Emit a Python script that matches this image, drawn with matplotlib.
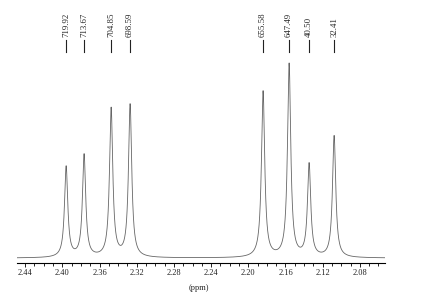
"""
1H NMR multiplet (2.05 - 2.45 ppm) with peak labels in Hz.
"""
import numpy as np
import matplotlib.pyplot as plt
from matplotlib.ticker import MultipleLocator, FormatStrFormatter

plt.rcParams['font.family'] = ['Liberation Serif', 'DejaVu Serif']

# Peak positions (ppm), relative heights and labels
peak_ppm = [2.3959, 2.3766, 2.3475, 2.3271, 2.1841, 2.1561, 2.1346, 2.1077]
peak_height = [47, 53, 77, 79, 86, 100, 48, 63]
peak_labels = ['719.92', '713.67', '704.85', '698.59', '655.58', '647.49', '40.50', '32.41']
peak_hwhm = 0.0021  # half width at half maximum (ppm)

# Build spectrum as sum of Lorentzian lines
x = np.linspace(2.449, 2.053, 4000)
y = np.zeros_like(x)
for pos, h in zip(peak_ppm, peak_height):
    y += h * peak_hwhm**2 / ((x - pos)**2 + peak_hwhm**2)

fig = plt.figure(figsize=(4.41, 2.98), dpi=100)
ax = fig.add_axes([0.038, 0.118, 0.835, 0.855])

ax.plot(x, y, color='#666666', lw=0.6)
ax.set_xlim(2.449, 2.053)
ax.set_ylim(-2.44, 129.5)

# Only the bottom axis is shown
for side in ['top', 'left', 'right']:
    ax.spines[side].set_visible(False)
ax.spines['bottom'].set_linewidth(0.8)
ax.set_yticks([])
ax.xaxis.set_major_locator(MultipleLocator(0.04))
ax.xaxis.set_minor_locator(MultipleLocator(0.01))
ax.xaxis.set_major_formatter(FormatStrFormatter('%.2f'))
ax.tick_params(axis='x', which='major', length=3, width=0.7, labelsize=6, pad=1.5, colors='#222222')
ax.tick_params(axis='x', which='minor', length=2, width=0.6)

ax.text(0.495, -0.085, '(ppm)', transform=ax.transAxes, ha='center', va='top', fontsize=6, color='#222222')

# Peak markers with Hz labels
trans = ax.get_xaxis_transform()
for pos, lab in zip(peak_ppm, peak_labels):
    ax.plot([pos, pos], [0.827, 0.874], transform=trans, color='#222222', lw=0.8, clip_on=False)
    ax.text(pos, 0.886, lab, transform=trans, rotation=90, ha='center', va='bottom',
            fontsize=6.3, color='#222222', clip_on=False)

fig.savefig('out.png', dpi=100)
